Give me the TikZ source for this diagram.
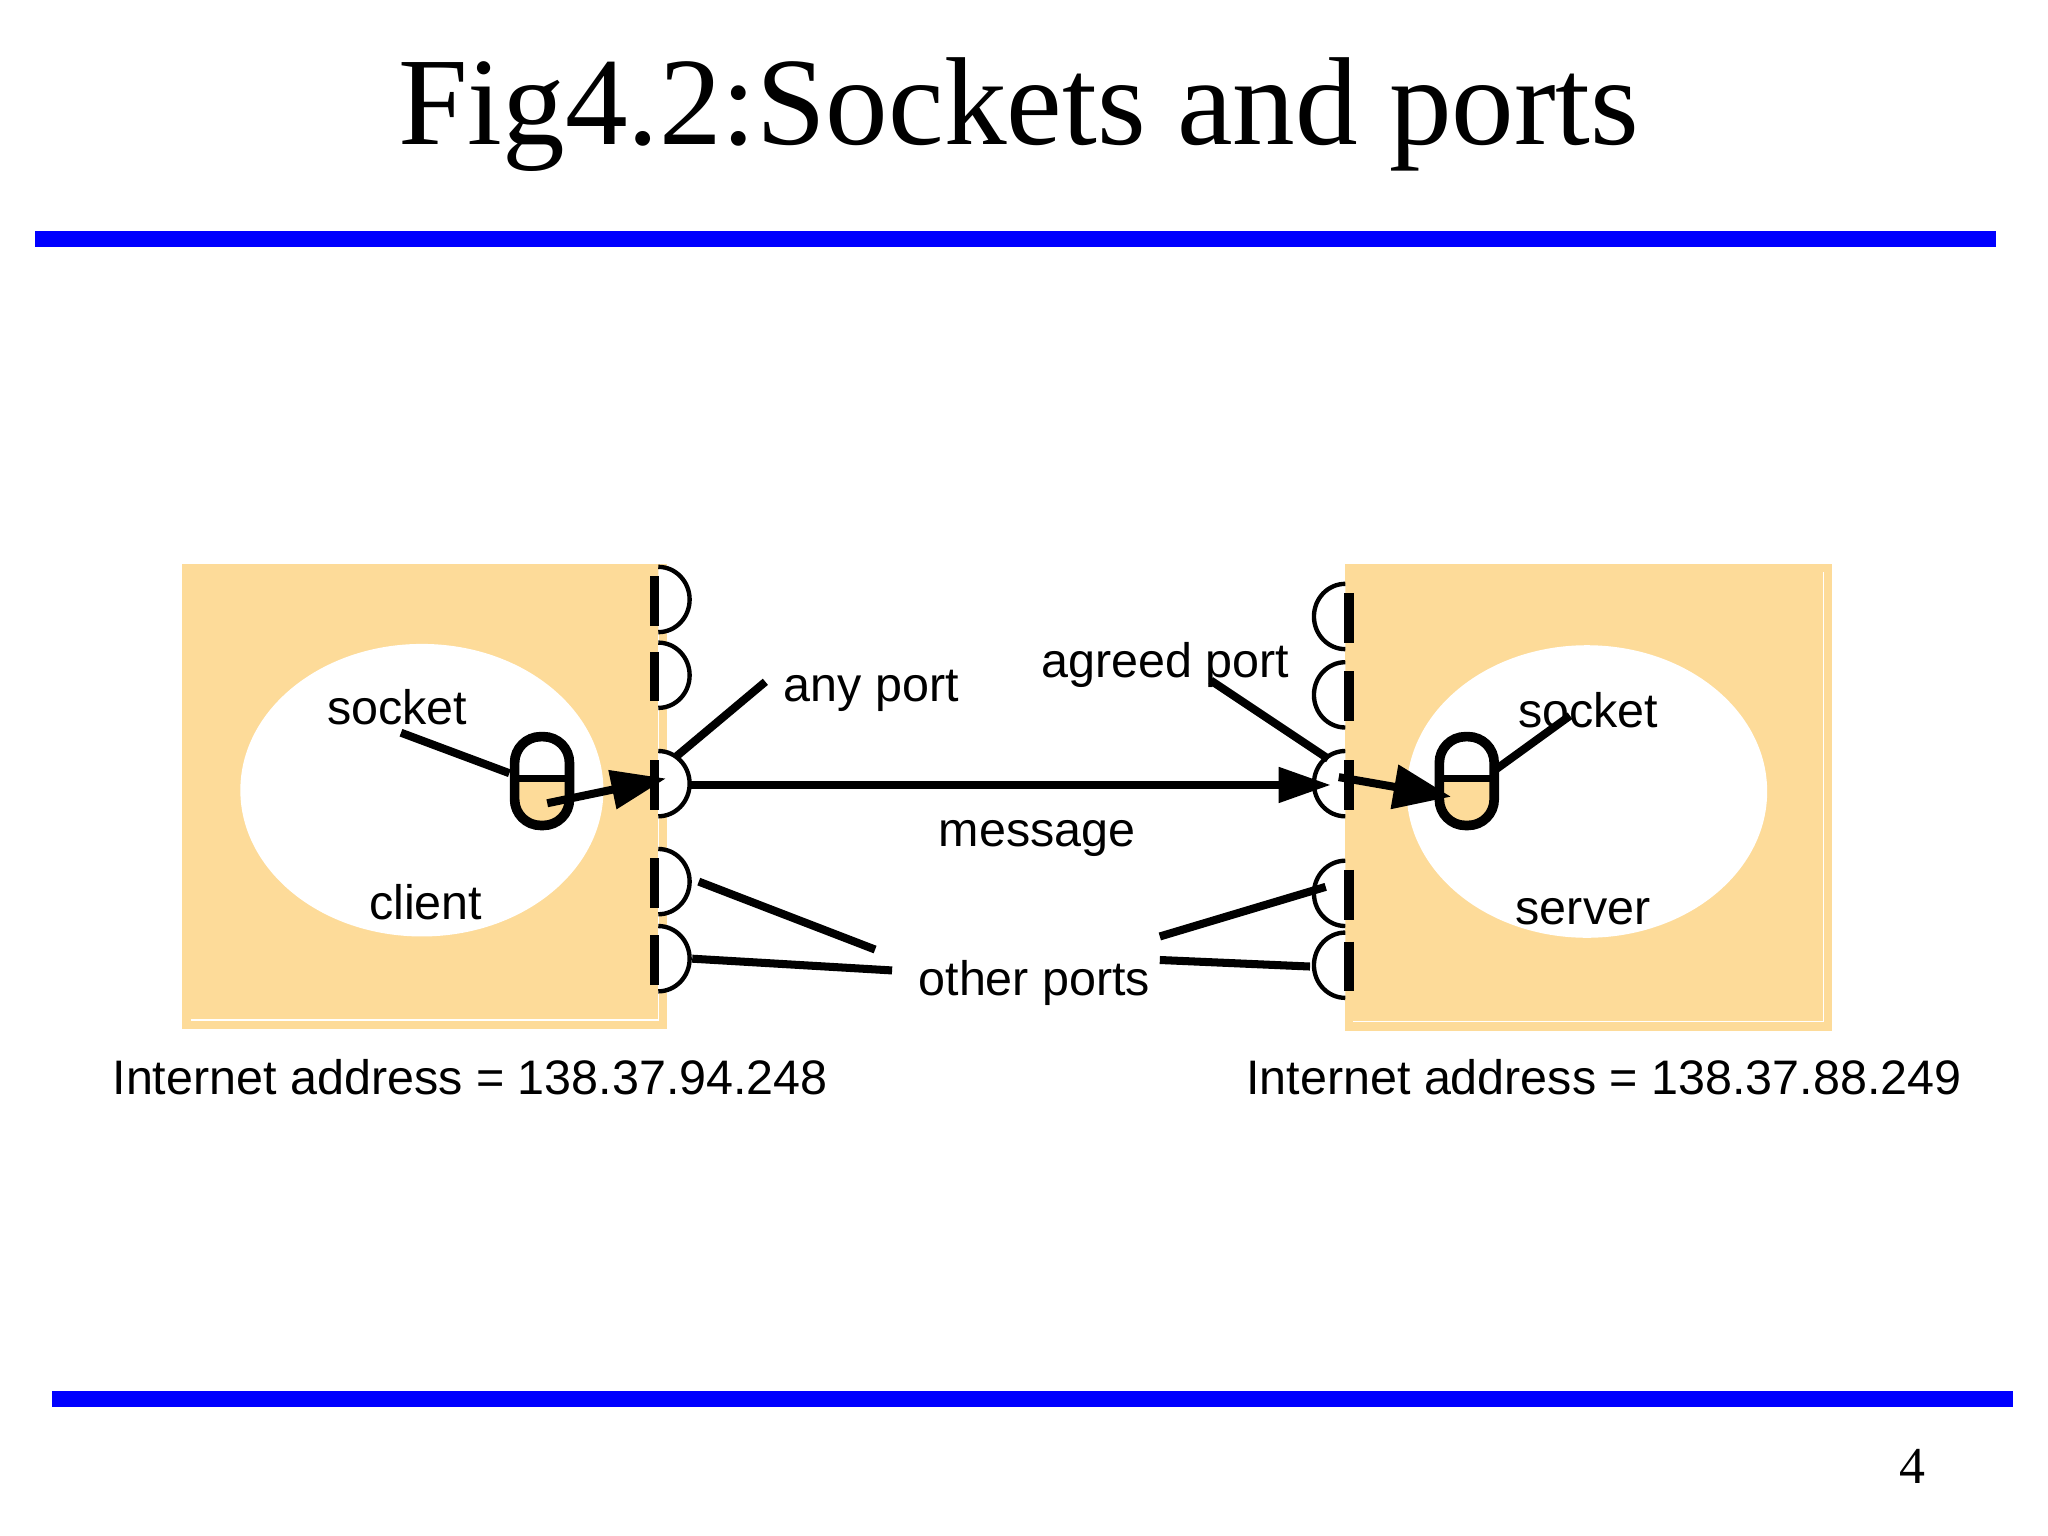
\documentclass[tikz,border=0pt]{standalone}
\usepackage{fontspec}
\setmainfont{Liberation Serif}
\newfontfamily\chuarial{Liberation Sans}
\usetikzlibrary{arrows.meta}
\definecolor{cam}{RGB}{253,219,153}
\definecolor{xanh}{RGB}{0,0,255}
\begin{document}
\begin{tikzpicture}[x=0.01cm,y=-0.01cm,
	nhan/.style={font=\chuarial\fontsize{10.55}{12}\selectfont,inner sep=0pt,anchor=base},
	noi/.style={line width=1.75pt},
	cong/.style={line width=0.95pt},
	muiten/.style={line width=1.75pt,-{Triangle[length=0.42cm,width=0.29cm]}}]
		\def\r{25}%Bán kính cổng
		\def\rx{24}%Bán kính ngang
		\def\xL{504}%Cạnh phải máy khách
		\def\xR{1030}%Cạnh trái máy chủ
		\useasboundingbox (0,0) rectangle (1568,1176);
		\path (780,111) node[anchor=base,inner sep=0pt,font=\fontsize{27.25}{33}\selectfont] (tieude) {Fig4.2:Sockets and ports};
		\draw[xanh,line width=3.6pt] (27,183)--(1528,183);
		\draw[xanh,line width=3.6pt] (40,1071)--(1541,1071);
		\path (1464,1136) node[anchor=base,inner sep=0pt,font=\fontsize{11.3}{13}\selectfont] (trang) {4};
		\fill[cam] (139,432) rectangle (511,788);
		\fill[cam] (\xR,432) rectangle (1403,789);
		\fill[white] (323,605) ellipse[x radius=139,y radius=112];
		\fill[white] (1215,606) ellipse[x radius=138,y radius=112];
		\draw[white,line width=0.3pt] (146,781)--(\xL,781)--(\xL,485);
		\draw[white,line width=0.3pt] (1036,782)--(1396,782)--(1396,438);
		\foreach \y [count=\i] in {459,517,600,675,734}{
			\coordinate (c\i) at (\xL,\y);
			\fill[white] (\xL,\y-\r) arc[start angle=-90,end angle=90,x radius=\rx,y radius=\r]--cycle;
			\draw[cong] (\xL,\y-\r) arc[start angle=-90,end angle=90,x radius=\rx,y radius=\r];
			\draw[line width=2.1pt] (\xL-3,\y-18)--(\xL-3,\y+20);
		}
		\foreach \y [count=\i] in {472,532,600,684,739}{
			\coordinate (s\i) at (\xR,\y);
			\fill[white] (\xR,\y-\r) arc[start angle=-90,end angle=-270,x radius=\rx,y radius=\r]--cycle;
			\draw[cong] (\xR,\y-\r) arc[start angle=-90,end angle=-270,x radius=\rx,y radius=\r];
			\draw[line width=2.1pt] (\xR+3,\y-18)--(\xR+3,\y+20);
		}
		\foreach \x in {415,1123}{
			\begin{scope}
				\clip (\x-25,596) rectangle (\x+25,640);
				\fill[cam,rounded corners=0.2cm] (\x-21,564) rectangle (\x+21,632);
			\end{scope}
			\draw[line width=1.6pt] (\x-21,596)--(\x+21,596);
			\draw[line width=2.1pt,rounded corners=0.2cm] (\x-21,564) rectangle (\x+21,632);
		}
		\path (304,555) node[nhan] (sockL) {socket};
		\path (326,704) node[nhan] (client) {client};
		\path (1216,557) node[nhan] (sockR) {socket};
		\path (1212,708) node[nhan] (server) {server};
		\path (667,537) node[nhan] (anyport) {any port};
		\path (892,519) node[nhan] (agreed) {agreed port};
		\path (794,648) node[nhan] (message) {message};
		\path (792,762) node[nhan] (other) {other ports};
		\path (360,838) node[nhan] (ipL) {Internet address = 138.37.94.248};
		\path (1228,838) node[nhan] (ipR) {Internet address = 138.37.88.249};
		\coordinate (sL) at (307,561);
		\coordinate (oL) at (390,592);
		\coordinate (sR) at (1202,548);
		\coordinate (oR) at (1144,590);
		\draw[noi] (sL)--(oL);
		\draw[noi] (oR)--(sR);
		\coordinate (tL) at (419,615);
		\coordinate (dL) at (510,596);
		\draw[muiten] (tL)--(dL);
		\coordinate (mA) at (528,601);
		\coordinate (mB) at (1019,601);
		\draw[muiten,-{Triangle[length=0.40cm,width=0.26cm]}] (mA)--(mB);
		\coordinate (tR) at (1025,595);
		\coordinate (dR) at (1111,610);
		\draw[muiten,-{Triangle[length=0.44cm,width=0.33cm]}] (tR)--(dR);
		\coordinate (aA) at (518,579);
		\coordinate (aB) at (586,522);
		\draw[noi] (aA)--(aB);
		\coordinate (gA) at (927,521);
		\coordinate (gB) at (1017,581);
		\draw[noi] (gA)--(gB);
		\coordinate (p4) at (535,675);
		\coordinate (o4) at (670,727);
		\draw[noi] (p4)--(o4);
		\coordinate (p5) at (530,734);
		\coordinate (o5) at (683,743);
		\draw[noi] (p5)--(o5);
		\coordinate (q4) at (1015,679);
		\coordinate (r4) at (888,717);
		\draw[noi] (r4)--(q4);
		\coordinate (q5) at (1003,740);
		\coordinate (r5) at (888,735);
		\draw[noi] (r5)--(q5);
\end{tikzpicture}
\end{document}
